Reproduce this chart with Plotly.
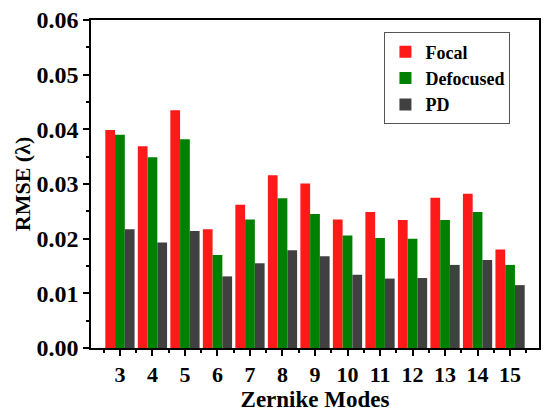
import plotly.graph_objects as go

# Zernike modes and RMSE values
modes = [3, 4, 5, 6, 7, 8, 9, 10, 11, 12, 13, 14, 15]
focal = [0.0399, 0.0369, 0.0435, 0.0217, 0.0262, 0.0316, 0.0301, 0.0235, 0.0249, 0.0234, 0.0275, 0.0282, 0.0180]
defocused = [0.0390, 0.0349, 0.0382, 0.0170, 0.0235, 0.0274, 0.0245, 0.0206, 0.0201, 0.0200, 0.0234, 0.0249, 0.0152]
pd_vals = [0.0217, 0.0193, 0.0214, 0.0131, 0.0155, 0.0179, 0.0168, 0.0134, 0.0127, 0.0128, 0.0152, 0.0161, 0.0115]
y_ticks = [0.00, 0.01, 0.02, 0.03, 0.04, 0.05, 0.06]

font_family = "Liberation Serif, Times New Roman, serif"

fig = go.Figure()
fig.add_trace(go.Bar(x=modes, y=focal, name='Focal', marker_color='#ff1a1a'))
fig.add_trace(go.Bar(x=modes, y=defocused, name='Defocused', marker_color='#008000'))
fig.add_trace(go.Bar(x=modes, y=pd_vals, name='PD', marker_color='#404040'))

fig.update_traces(marker_line_width=0)

# page body has an 8px margin, so the figure is a bit smaller than the window
fig.update_layout(
    width=542, height=406,
    margin=dict(l=83, r=11, t=12, b=66),
    plot_bgcolor='white', paper_bgcolor='white',
    barmode='group', bargap=0.1, bargroupgap=0,
    font=dict(family=font_family, size=20, color='black', weight='bold'),
    legend=dict(
        x=0.655, y=0.962, xanchor='left', yanchor='top',
        bordercolor='#555555', borderwidth=1, bgcolor='white',
        font=dict(size=18, family=font_family, weight='bold'),
        tracegroupgap=0, itemwidth=30,
    ),
)

fig.update_xaxes(
    range=[2.11, 15.89], automargin=False,
    tickvals=modes, ticktext=[str(m) for m in modes],
    ticks='outside', ticklen=6, tickwidth=1.5, tickcolor='black',
    minor=dict(tickvals=[m - 0.5 for m in modes] + [15.5], ticks='outside', ticklen=3, tickwidth=1.5, tickcolor='black'),
    showline=True, linecolor='black', linewidth=1.5, mirror=True,
    showgrid=False, zeroline=False, ticklabeloverflow='allow',
    title=dict(text='Zernike Modes', font=dict(size=23, family=font_family, weight='bold'), standoff=2),
    tickfont=dict(size=22, family=font_family, weight='bold'),
)

fig.update_yaxes(
    range=[0, 0.06], automargin=False,
    tickvals=y_ticks, ticktext=['%.2f' % v for v in y_ticks],
    ticks='outside', ticklen=6, tickwidth=1.5, tickcolor='black',
    minor=dict(dtick=0.005, ticks='outside', ticklen=3, tickwidth=1.5, tickcolor='black'),
    showline=True, linecolor='black', linewidth=1.5, mirror=True,
    showgrid=False, zeroline=False, ticklabeloverflow='allow',
    title=dict(text='RMSE (λ)', font=dict(size=22, family=font_family, weight='bold'), standoff=0),
    tickfont=dict(size=24, family=font_family, weight='bold'),
)

fig.write_html("out.html")
